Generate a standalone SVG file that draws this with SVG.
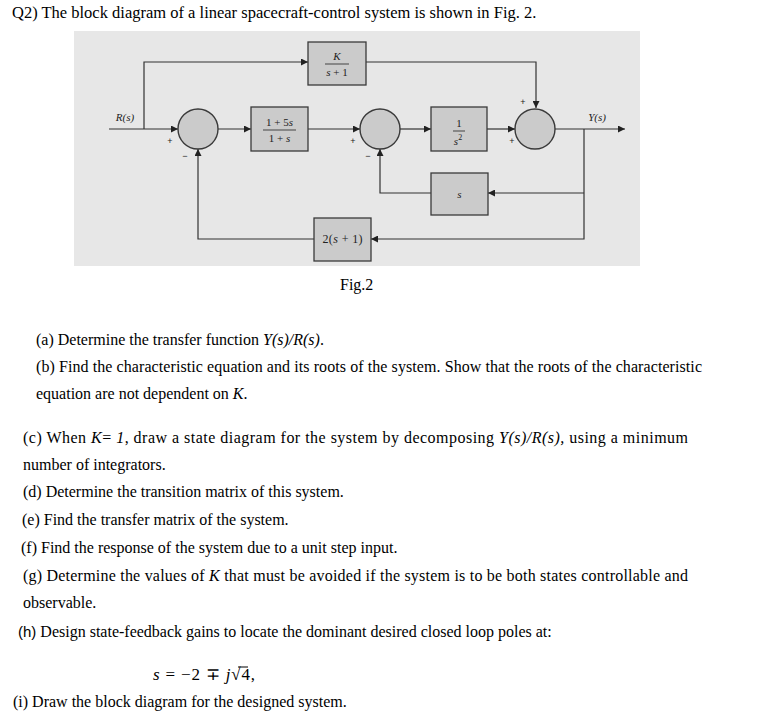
<svg xmlns="http://www.w3.org/2000/svg" width="760" height="725" viewBox="0 0 760 725">
<defs>
<marker id="ah" viewBox="0 0 10 10" refX="10" refY="5" markerWidth="8" markerHeight="7" markerUnits="userSpaceOnUse" orient="auto">
<path d="M0,0 L10,5 L0,10 z" fill="#222"/>
</marker>
</defs>
<style>
.blk{fill:#cbcbcb;stroke:#3a3a3a;stroke-width:1.3}
.sum{fill:#cbcbcb;stroke:#3a3a3a;stroke-width:1.4}
.w{fill:none;stroke:#333;stroke-width:1.2;marker-end:url(#ah)}
.lb{font-family:"Liberation Serif",serif;font-size:11px;fill:#222;text-anchor:middle}
.sg{font-family:"Liberation Sans",sans-serif;font-size:9px;fill:#222;text-anchor:middle}
.t{font-family:"Liberation Serif",serif;font-size:16px;fill:#000}
.i{font-style:italic}
</style>
<rect width="760" height="725" fill="#fff"/>
<text class="t" x="12" y="18" style="font-size:16.5px">Q2) The block diagram of a linear spacecraft-control system is shown in Fig. 2.</text>
<rect x="74" y="31" width="566" height="235" fill="#e7e7e7"/>

<g id="connectors">
<path class="w" d="M109,129 H178"/>
<path class="w" d="M144,129 V62 H308"/>
<path class="w" d="M366,62 H536 V108"/>
<path class="w" d="M218,129 H251"/>
<path class="w" d="M308,129 H360"/>
<path class="w" d="M400,129 H431"/>
<path class="w" d="M487,129 H515"/>
<path class="w" d="M555,129 H625"/>
<path class="w" d="M584,129 V239 H371"/>
<path class="w" d="M584,193 H488"/>
<path class="w" d="M431,193 H380 V149"/>
<path class="w" d="M314,239 H198 V149"/>
</g>

<g id="block-K">
<rect class="blk" x="308" y="42" width="58" height="43"/>
<text class="lb i" x="337" y="60">K</text>
<line x1="325" y1="64" x2="349" y2="64" stroke="#222" stroke-width="0.8"/>
<text class="lb" x="337" y="76"><tspan class="i">s</tspan> + 1</text>
</g>
<g id="sum1">
<circle class="sum" cx="198" cy="129" r="20"/>
<text class="sg" x="170" y="144">+</text>
<text class="sg" x="185" y="159">−</text>
</g>
<g id="block-lead">
<rect class="blk" x="251" y="107" width="57" height="44"/>
<text class="lb" x="279.5" y="126">1 + 5<tspan class="i">s</tspan></text>
<line x1="263" y1="130" x2="296" y2="130" stroke="#222" stroke-width="0.8"/>
<text class="lb" x="279.5" y="142">1 + <tspan class="i">s</tspan></text>
</g>
<g id="sum2">
<circle class="sum" cx="380" cy="129" r="20"/>
<text class="sg" x="353" y="144">+</text>
<text class="sg" x="368" y="159">−</text>
</g>
<g id="block-plant">
<rect class="blk" x="431" y="107" width="56" height="44"/>
<text class="lb" x="459" y="127">1</text>
<line x1="453" y1="131" x2="465" y2="131" stroke="#222" stroke-width="0.8"/>
<text class="lb" x="458" y="145"><tspan class="i">s</tspan><tspan dy="-5" font-size="8">2</tspan></text>
</g>
<g id="sum3">
<circle class="sum" cx="535" cy="129" r="20"/>
<text class="sg" x="523" y="105">+</text>
<text class="sg" x="512" y="144">+</text>
</g>
<g id="block-s">
<rect class="blk" x="431" y="173" width="57" height="42"/>
<text class="lb i" x="459.5" y="198">s</text>
</g>
<g id="block-2s1">
<rect class="blk" x="314" y="218" width="57" height="43"/>
<text class="lb" x="342.5" y="243" style="font-size:12px" textLength="40" lengthAdjust="spacing">2(<tspan class="i">s</tspan> + 1)</text>
</g>
<g id="labels">
<text class="lb i" x="125" y="121">R(s)</text>
<text class="lb i" x="597" y="121">Y(s)</text>
</g>

<text class="t" x="340" y="290">Fig.2</text>
<text class="t" x="36" y="345">(a) Determine the transfer function <tspan class="i">Y(s)/R(s)</tspan>.</text>
<text class="t" x="36" y="372" textLength="666" lengthAdjust="spacing">(b) Find the characteristic equation and its roots of the system. Show that the roots of the characteristic</text>
<text class="t" x="36" y="399">equation are not dependent on <tspan class="i">K</tspan>.</text>
<text class="t" x="23" y="443" textLength="665" lengthAdjust="spacing">(c) When <tspan class="i">K</tspan>= <tspan class="i">1</tspan>, draw a state diagram for the system by decomposing <tspan class="i">Y(s)/R(s),</tspan> using a minimum</text>
<text class="t" x="23" y="470">number of integrators.</text>
<text class="t" x="23" y="497">(d) Determine the transition matrix of this system.</text>
<text class="t" x="22" y="525">(e) Find the transfer matrix of the system.</text>
<text class="t" x="21" y="553">(f) Find the response of the system due to a unit step input.</text>
<text class="t" x="23" y="581" textLength="665" lengthAdjust="spacing">(g) Determine the values of <tspan class="i">K</tspan> that must be avoided if the system is to be both states controllable and</text>
<text class="t" x="23" y="608">observable.</text>
<text class="t" x="18" y="637"><tspan style="font-family:'Liberation Sans',sans-serif;font-size:15px">(h)</tspan> Design state-feedback gains to locate the dominant desired closed loop poles at:</text>
<text class="t" x="153" y="680" style="font-size:17px" textLength="102" lengthAdjust="spacing"><tspan class="i">s</tspan> = −2 ∓ <tspan class="i">j</tspan>√4,</text>
<line x1="238" y1="667" x2="248" y2="667" stroke="#000" stroke-width="1"/>
<text class="t" x="13" y="707">(i) Draw the block diagram for the designed system.</text>
</svg>
